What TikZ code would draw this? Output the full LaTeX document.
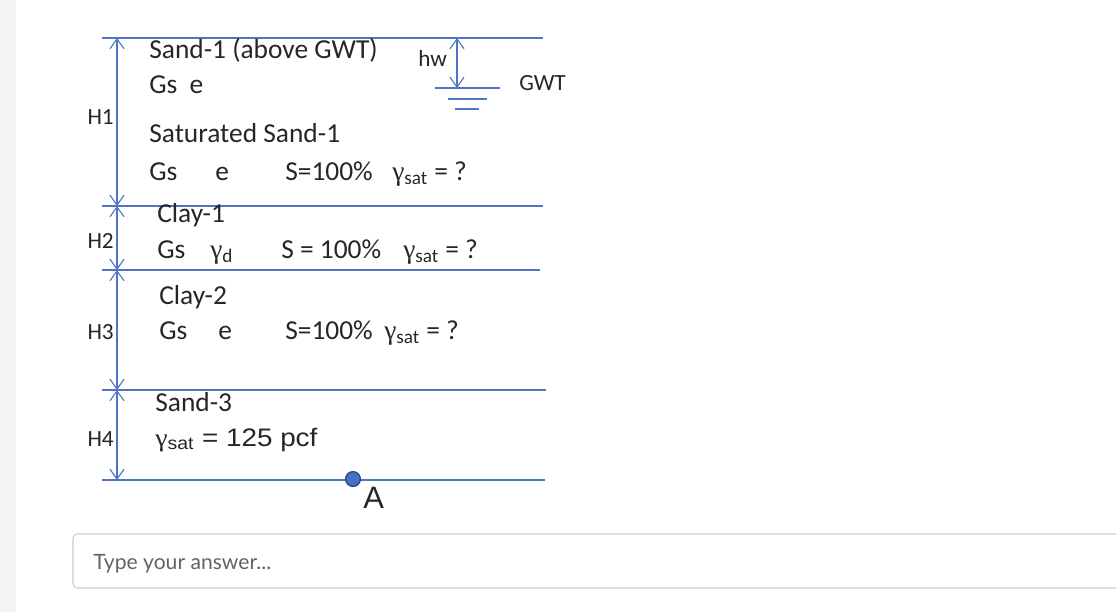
\documentclass[tikz,border=0pt]{standalone}
\usepackage{fontspec}
\setmainfont{Carlito}
\newfontfamily\arialfont{Liberation Sans}
\newfontfamily\latofont{Lato}
\newfontfamily\symfont{Liberation Serif}
\usetikzlibrary{arrows.meta, positioning}

\definecolor{soilblue}{RGB}{79,116,196}
\definecolor{inktext}{RGB}{38,38,38}
\definecolor{boxgray}{RGB}{202,206,210}
\definecolor{hintgray}{RGB}{96,100,104}
\definecolor{sidegray}{RGB}{243,243,243}
\definecolor{pointfill}{RGB}{68,114,196}
\definecolor{pointedge}{RGB}{40,70,130}

\newcommand{\gam}{{\symfont γ}}

\begin{document}
\begin{tikzpicture}[x=0.025cm, y=-0.025cm]
		\tikzstyle{every node}=[text=inktext, inner sep=0pt]
		\tikzstyle{layer}=[draw=soilblue, line width=0.9pt]
		\tikzstyle{dimline}=[draw=soilblue, line width=0.8pt,
		{Straight Barb[length=7pt,width=10pt]}-{Straight Barb[length=7pt,width=10pt]}]
		\tikzstyle{soiltxt}=[anchor=base west, font=\fontsize{19.5}{22}\selectfont]
		\tikzstyle{dimtxt}=[anchor=base east, font=\fontsize{16.5}{18}\selectfont]
		
		\useasboundingbox (0,0) rectangle (1116,612);
		\fill[sidegray] (0,0) rectangle (16,612);
		
		%% Camadas
		\foreach \yy/\xe in {38/543, 206/543, 270/540, 390/546, 480/545}
		\draw[layer] (102,\yy) -- (\xe,\yy);
		
		%% Cotas H1..H4
		\coordinate (d0) at (117,38);
		\coordinate (d1) at (117,206);
		\coordinate (d2) at (117,270);
		\coordinate (d3) at (117,390);
		\coordinate (d4) at (117,480);
		\draw[dimline] (d0) -- (d1);
		\draw[dimline] (d1) -- (d2);
		\draw[dimline] (d2) -- (d3);
		\draw[dimline] (d3) -- (d4);
		\node[dimtxt] (h1) at (114,124) {H1};
		\node[dimtxt] (h2) at (114,248) {H2};
		\node[dimtxt] (h3) at (114,339) {H3};
		\node[dimtxt] (h4) at (114,446) {H4};
		
		%% Nivel d'agua
		\coordinate (hwtop) at (457,38);
		\coordinate (hwbot) at (457,88);
		\draw[dimline] (hwtop) -- (hwbot);
		\node[anchor=base west, font=\fontsize{16.5}{18}\selectfont] (hw) at (418,66) {hw};
		\draw[layer] (435,88) -- (500,88);
		\draw[layer] (448,99) -- (487,99);
		\draw[layer] (455,109) -- (479,109);
		\node[anchor=base west, font=\fontsize{16.5}{18}\selectfont] (gwt) at (519,90) {GWT};
		
		%% Sand-1
		\node[soiltxt] (sand1) at (149,58) {Sand-1 (above GWT)};
		\node[soiltxt] (gs1) at (149,93) {Gs\ \ e};
		\node[soiltxt] (satsand) at (149,142) {Saturated Sand-1};
		\node[soiltxt] (gs2) at (149,180) {Gs};
		\node[soiltxt] (e2) at (215,180) {e};
		\node[soiltxt] (s2) at (285,180) {S=100\%};
		\node[soiltxt] (g2) at (392,180) {\gam\textsubscript{sat} = ?};
		
		%% Clay-1
		\node[soiltxt] (clay1) at (157,222) {Clay-1};
		\node[soiltxt] (gs3) at (157,258) {Gs};
		\node[soiltxt] (gd3) at (210,258) {\gam\textsubscript{d}};
		\node[soiltxt] (s3) at (281,258) {S = 100\%};
		\node[soiltxt] (g3) at (403,258) {\gam\textsubscript{sat} = ?};
		
		%% Clay-2
		\node[soiltxt] (clay2) at (159,304) {Clay-2};
		\node[soiltxt] (gs4) at (159,339) {Gs};
		\node[soiltxt] (e4) at (218,339) {e};
		\node[soiltxt] (s4) at (285,339) {S=100\%};
		\node[soiltxt] (g4) at (384,339) {\gam\textsubscript{sat} = ?};
		
		%% Sand-3
		\node[soiltxt] (sand3) at (155,411) {Sand-3};
		\node[anchor=base west, font=\arialfont\fontsize{18}{20}\selectfont] (g5) at (155,446)
		{\scalebox{1.1}[1]{\gam\textsubscript{sat} = 125 pcf}};
		
		%% Ponto A
		\node[circle, draw=pointedge, fill=pointfill, line width=0.9pt, minimum size=0.37cm] (ptA) at (353,479) {};
		\node[anchor=base west, font=\arialfont\fontsize{22}{24}\selectfont] (lblA) at (363,508) {A};
		
		%% Caixa de resposta
		\draw[boxgray, line width=0.8pt, rounded corners=3pt] (73,534) rectangle (1130,588);
		\node[anchor=base west, text=hintgray, font=\latofont\fontsize{15}{17}\selectfont] (answer) at (93,569) {Type your answer...};
		
\end{tikzpicture}
\end{document}
